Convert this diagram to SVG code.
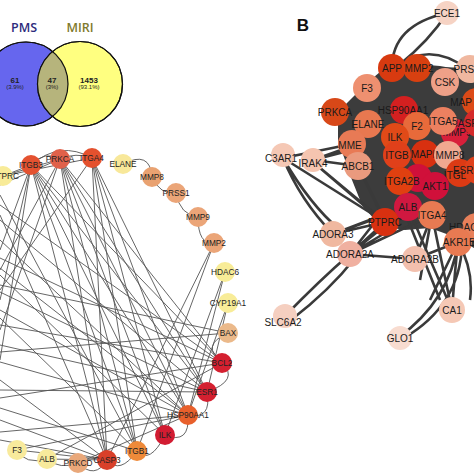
<svg xmlns="http://www.w3.org/2000/svg" width="474" height="474" viewBox="0 0 474 474">
<style>
.a{fill:none;stroke:#555;stroke-width:0.9}
.b{fill:none;stroke:#3a3a3a;stroke-width:2.6}
.la{font-family:"Liberation Sans",Arial,sans-serif;font-size:8.3px;fill:#222;text-anchor:middle;dominant-baseline:central}
.lb{font-family:"Liberation Sans",Arial,sans-serif;font-size:10px;fill:#1a1a1a;text-anchor:middle;dominant-baseline:central}
.vn{font-family:"Liberation Sans",Arial,sans-serif;font-size:8px;font-weight:bold;fill:#222;text-anchor:middle}
.vp{font-family:"Liberation Sans",Arial,sans-serif;font-size:6px;fill:#222;text-anchor:middle}
</style>
<rect width="474" height="474" fill="#fff"/>
<!-- Venn -->
<g id="venn">
<circle cx="26" cy="84" r="42" fill="#6666ee" stroke="#111" stroke-width="1.2"/>
<circle cx="80" cy="84" r="42.5" fill="#ffff80" stroke="#111" stroke-width="1.2"/>
<clipPath id="cl"><circle cx="26" cy="84" r="42"/></clipPath>
<circle cx="80" cy="84" r="42.5" fill="#b6b47c" clip-path="url(#cl)"/>
<circle cx="26" cy="84" r="42" fill="none" stroke="#111" stroke-width="1.2"/>
<circle cx="80" cy="84" r="42.5" fill="none" stroke="#111" stroke-width="1.2"/>
<text x="24" y="32" font-family="'Open Sans',sans-serif" font-size="12.5" font-weight="600" fill="#2d2b7c" text-anchor="middle">PMS</text>
<text x="80" y="32" font-family="'Open Sans',sans-serif" font-size="12.5" font-weight="600" fill="#7f7a2c" text-anchor="middle">MIRI</text>
<text class="vn" x="15" y="83">61</text><text class="vp" x="15" y="89">(3.9%)</text>
<text class="vn" x="52" y="83">47</text><text class="vp" x="52" y="89">(3%)</text>
<text class="vn" x="89" y="83">1453</text><text class="vp" x="89" y="89">(93.1%)</text>
</g>
<text x="303" y="31" font-family="'Liberation Sans',Arial,sans-serif" font-size="17" font-weight="bold" fill="#111" text-anchor="middle">B</text>
<!-- Panel A connectors -->
<g id="edgesA">
<path class="a" d="M31,165L107,460M31,165L137,451M31,165L165,435M31,165L188,415M31,165L207,392M31,165L222,363M31,165L0,300M31,165L0,360M31,165L0,250"/>
<path class="a" d="M60,159L107,460M60,159L137,451M60,159L165,435M60,159L188,415M60,159L222,363M60,159L0,330M60,159L0,270M60,159L207,392"/>
<path class="a" d="M92,158L107,460M92,158L137,451M92,158L188,415M92,158L207,392M92,158L165,435M92,158L0,290"/>
<path class="a" d="M3,176L31,165M3,176L92,158M3,176L60,159M0,185L60,159"/>
<path class="a" d="M0,205L222,363M0,220L207,392M0,240L188,415M0,258L222,363M0,275L165,435M0,292L207,392M0,310L188,415M0,325L222,363M0,345L207,392M0,362L188,415M0,380L107,460M0,398L222,363M0,408L137,451M0,420L107,460M0,432L188,415M0,195L137,451M0,215L107,460M0,285L228,333M0,352L228,333M0,390L207,392M0,440L107,460M0,268L188,415M0,318L137,451"/>
<path class="a" d="M214,243L107,460M214,243L137,451M225,272L188,415M225,272L165,435M228,303L188,415M228,303L207,392"/>
<path class="a" d="M17,450L107,460M47,459L107,460M78,463L188,415M17,450L188,415M47,459L222,363"/>
<path class="a" d="M31,165Q60,140 92,158M31,165Q45,150 60,159M60,159Q76,152 92,158M123,164Q150,150 152,177M152,177Q160,195 176,193M176,193Q180,215 198,217M198,217Q198,245 214,243M228,333Q200,345 222,363M222,363Q240,380 207,392M207,392Q212,420 188,415M188,415Q190,445 165,435M165,435Q150,465 137,451M137,451Q120,475 107,460M107,460Q95,480 78,463M47,459Q60,470 78,463M17,450Q25,465 47,459"/>
</g>
<!-- Panel A nodes -->
<g id="PTPRC_A"><circle cx="3" cy="176" r="10" fill="#f8eb98"/><text class="la" x="5" y="176">PTPRC</text></g>
<g id="ITGB3_A"><circle cx="31" cy="165" r="10" fill="#e45230"/><text class="la" x="31" y="165">ITGB3</text></g>
<g id="PRKCA_A"><circle cx="60" cy="159" r="10" fill="#e0614a"/><text class="la" x="60" y="159">PRKCA</text></g>
<g id="ITGA4_A"><circle cx="92" cy="158" r="10" fill="#e4512e"/><text class="la" x="92" y="158">ITGA4</text></g>
<g id="ELANE_A"><circle cx="123" cy="164" r="10" fill="#f8e89a"/><text class="la" x="123" y="164">ELANE</text></g>
<g id="MMP8_A"><circle cx="152" cy="177" r="10" fill="#e9a271"/><text class="la" x="152" y="177">MMP8</text></g>
<g id="PRSS1_A"><circle cx="176" cy="193" r="10" fill="#eba578"/><text class="la" x="176" y="193">PRSS1</text></g>
<g id="MMP9_A"><circle cx="198" cy="217" r="10" fill="#eba578"/><text class="la" x="198" y="217">MMP9</text></g>
<g id="MMP2_A"><circle cx="214" cy="243" r="10" fill="#eba578"/><text class="la" x="214" y="243">MMP2</text></g>
<g id="HDAC6_A"><circle cx="225" cy="272" r="10" fill="#f8ec98"/><text class="la" x="225" y="272">HDAC6</text></g>
<g id="CYP19A1_A"><circle cx="228" cy="303" r="10" fill="#f8ec98"/><text class="la" x="228" y="303">CYP19A1</text></g>
<g id="BAX_A"><circle cx="228" cy="333" r="10" fill="#ebb98a"/><text class="la" x="228" y="333">BAX</text></g>
<g id="BCL2_A"><circle cx="222" cy="363" r="10" fill="#d42030"/><text class="la" x="222" y="363">BCL2</text></g>
<g id="ESR1_A"><circle cx="207" cy="392" r="10" fill="#d42030"/><text class="la" x="207" y="392">ESR1</text></g>
<g id="HSP90AA1_A"><circle cx="188" cy="415" r="10" fill="#e8602c"/><text class="la" x="188" y="415">HSP90AA1</text></g>
<g id="ILK_A"><circle cx="165" cy="435" r="10" fill="#d21c32"/><text class="la" x="165" y="435">ILK</text></g>
<g id="ITGB1_A"><circle cx="137" cy="451" r="10" fill="#ee8a3a"/><text class="la" x="137" y="451">ITGB1</text></g>
<g id="CASP3_A"><circle cx="107" cy="460" r="10" fill="#d9402a"/><text class="la" x="107" y="460">CASP3</text></g>
<g id="PRKCD_A"><circle cx="78" cy="463" r="10" fill="#e9a87a"/><text class="la" x="78" y="463">PRKCD</text></g>
<g id="ALB_A"><circle cx="47" cy="459" r="10" fill="#f8ea9c"/><text class="la" x="47" y="459">ALB</text></g>
<g id="F3_A"><circle cx="17" cy="450" r="10" fill="#f8ea9c"/><text class="la" x="17" y="450">F3</text></g>
<!-- Panel B connectors -->
<g id="edgesB">
<path d="M338,112L368,82L392,62L440,66L474,72L474,248L452,236L430,228L405,230L380,226L362,205L352,180L345,160L338,140Z" fill="#3c3c3c"/>
<path class="b" d="M392,68Q392,25 447,13M398,66Q430,40 447,13M392,68Q430,40 467,69M417,68L467,69M417,72L467,73M335,112L362,112"/>
<path class="b" d="M283,158L352,144M313,160L352,146M313,160L352,150M313,160L358,166M313,162L385,222M313,162L375,215M283,158L385,222M283,158Q300,200 333,234M283,158Q310,205 340,230M358,166L385,222M358,166L380,210"/>
<path class="b" d="M333,234L385,222M333,234L380,216M333,234L408,207M350,254L385,222M350,254L390,230M350,254L408,207M350,254L415,259M350,254L432,215M350,254L375,222"/>
<path class="b" d="M285,316Q320,280 350,254M291,320Q330,290 355,258"/>
<path class="b" d="M415,259L458,242M415,259L432,215M398,338Q450,300 458,242M404,338Q460,305 462,245M452,310Q455,270 458,242M452,310Q430,260 408,207M452,310Q440,255 432,215M470,300Q474,270 458,242M430,300L458,242M420,280L432,215M440,300L408,220"/>
</g>
<!-- Panel B nodes -->
<g id="ECE1"><circle cx="447" cy="13" r="12" fill="#f6d3c4"/><text class="lb" x="447" y="13">ECE1</text></g>
<g id="C3AR1"><circle cx="283" cy="155" r="12" fill="#f5c8b5"/><text class="lb" x="281" y="158">C3AR1</text></g>
<g id="IRAK4"><circle cx="313" cy="160" r="12" fill="#f5c5b0"/><text class="lb" x="313" y="163">IRAK4</text></g>
<g id="ADORA3"><circle cx="333" cy="234" r="13" fill="#f0b8a0"/><text class="lb" x="333" y="234">ADORA3</text></g>
<g id="ADORA2A"><circle cx="350" cy="254" r="13" fill="#f0b0a0"/><text class="lb" x="350" y="254">ADORA2A</text></g>
<g id="ADORA2B"><circle cx="415" cy="259" r="13" fill="#f3c0ae"/><text class="lb" x="415" y="259">ADORA2B</text></g>
<g id="SLC6A2"><circle cx="285" cy="316" r="12" fill="#f5cfc0"/><text class="lb" x="283" y="322">SLC6A2</text></g>
<g id="GLO1"><circle cx="400" cy="338" r="12" fill="#f8dcd0"/><text class="lb" x="400" y="338">GLO1</text></g>
<g id="CA1"><circle cx="452" cy="310" r="13" fill="#f5c8b5"/><text class="lb" x="452" y="310">CA1</text></g>
<g id="PRSS1"><circle cx="470" cy="69" r="14" fill="#f0b8a0"/><text class="lb" x="470" y="69">PRSS1</text></g>
<g id="APP"><circle cx="392" cy="68" r="14" fill="#d83a10"/><text class="lb" x="392" y="68">APP</text></g>
<g id="MMP2"><circle cx="417" cy="68" r="14" fill="#d84010"/><text class="lb" x="419" y="68">MMP2</text></g>
<g id="CSK"><circle cx="445" cy="82" r="14" fill="#eea088"/><text class="lb" x="445" y="82">CSK</text></g>
<g id="F3"><circle cx="367" cy="88" r="14" fill="#ee9070"/><text class="lb" x="367" y="88">F3</text></g>
<g id="MAP"><circle cx="476" cy="102" r="14" fill="#dc4a18"/><text class="lb" x="461" y="102" text-anchor="start">MAP</text></g>
<g id="PRKCA"><circle cx="335" cy="112" r="14" fill="#d84818"/><text class="lb" x="335" y="112">PRKCA</text></g>
<g id="HSP90AA1"><circle cx="404" cy="110" r="14" fill="#d42020"/><text class="lb" x="403" y="110">HSP90AA1</text></g>
<g id="MMP9"><circle cx="455" cy="133" r="14" fill="#d81f3a"/><text class="lb" x="457" y="132">MMP9</text></g>
<g id="CASP3"><circle cx="478" cy="123" r="14" fill="#d42a2a"/><text class="lb" x="467" y="123" text-anchor="start">CASP3</text></g>
<g id="ELANE"><circle cx="368" cy="124" r="14" fill="#e87850"/><text class="lb" x="368" y="124">ELANE</text></g>
<g id="F2"><circle cx="417" cy="126" r="14" fill="#e86a3a"/><text class="lb" x="417" y="126">F2</text></g>
<g id="ITGA5"><circle cx="443" cy="121" r="14" fill="#ec8060"/><text class="lb" x="443" y="121">ITGA5</text></g>
<g id="ILK"><circle cx="395" cy="137" r="14" fill="#e04a18"/><text class="lb" x="395" y="137">ILK</text></g>
<g id="MME"><circle cx="352" cy="144" r="14" fill="#e87a55"/><text class="lb" x="350" y="145">MME</text></g>
<g id="ABCB1"><circle cx="358" cy="166" r="14" fill="#ea9a7e"/><text class="lb" x="358" y="166">ABCB1</text></g>
<g id="ITGB"><circle cx="397" cy="155" r="14" fill="#e0401a"/><text class="lb" x="397" y="155">ITGB</text></g>
<g id="MAPK"><circle cx="425" cy="154" r="14" fill="#d83010"/><text class="lb" x="425" y="154">MAPK</text></g>
<g id="MMP8"><circle cx="448" cy="155" r="14" fill="#f0a890"/><text class="lb" x="450" y="155">MMP8</text></g>
<g id="ITGL"><circle cx="460" cy="173" r="14" fill="#dc3a14"/><text class="lb" x="455" y="175">ITGL</text></g>
<g id="ESR1"><circle cx="478" cy="170" r="14" fill="#e0401a"/><text class="lb" x="466" y="170" text-anchor="start">ESR1</text></g>
<g id="ITGA2B"><circle cx="418" cy="178" r="14" fill="#d0103a"/><circle cx="400" cy="181" r="14" fill="#e04010"/><text class="lb" x="402" y="181">ITGA2B</text></g>
<g id="AKT1"><circle cx="435" cy="186" r="14" fill="#d0103a"/><text class="lb" x="435" y="186">AKT1</text></g>
<g id="ALB"><circle cx="408" cy="207" r="14" fill="#d01840"/><text class="lb" x="408" y="207">ALB</text></g>
<g id="ITGA4"><circle cx="432" cy="215" r="14" fill="#e87a52"/><text class="lb" x="432" y="215">ITGA4</text></g>
<g id="PTPRC"><circle cx="385" cy="222" r="14" fill="#d83010"/><text class="lb" x="385" y="222">PTPRC</text></g>
<g id="HDAC6"><circle cx="476" cy="227" r="14" fill="#e8805a"/><text class="lb" x="466" y="227" text-anchor="start">HDAC6</text></g>
<g id="AKR1B1"><circle cx="458" cy="242" r="14" fill="#e87a52"/><text class="lb" x="462" y="242">AKR1B1</text></g>
</svg>
